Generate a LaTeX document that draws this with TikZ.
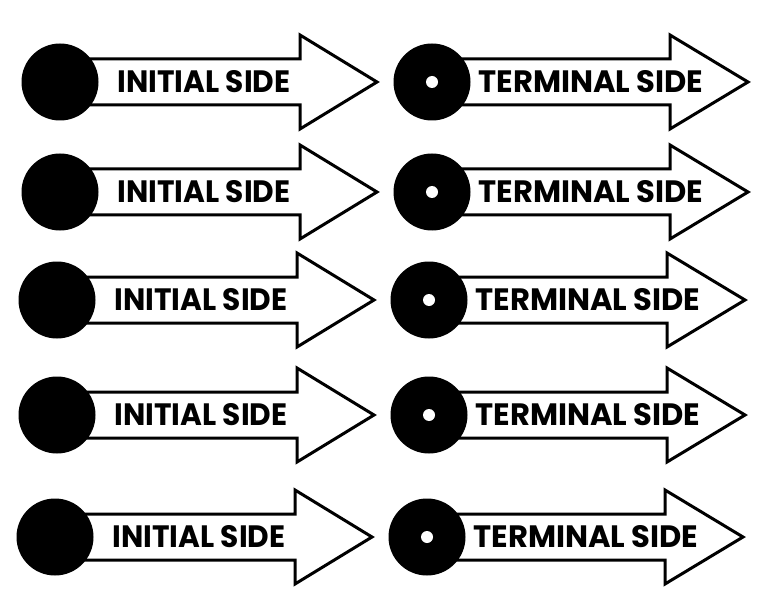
\documentclass[tikz,border=0pt]{standalone}
\usepackage{fontspec}
\setmainfont{Poppins}
\usepackage{graphicx}
\begin{document}
\begin{tikzpicture}[x=1pt,y=-1pt,
  arr/.style={draw=black,fill=white,line width=3pt,line join=miter},
  dot/.style={circle,fill=black,minimum size=77pt,inner sep=0pt},
  lbl/.style={inner sep=0pt,font=\bfseries}]
\useasboundingbox (0,0) rectangle (768,604);
\foreach \i/\y/\d in {1/82/0,2/192/0,3/300/3,4/415/3,5/537/5}{
  % left
  \draw[arr] (60-\d,\y-23) -- (300-\d,\y-23) -- (300-\d,\y-47) -- (377-\d,\y) -- (300-\d,\y+47) -- (300-\d,\y+23) -- (60-\d,\y+23) -- cycle;
  \node[dot] (l\i) at (60-\d,\y) {};
  \node[lbl] (lt\i) at (204-\d,\y) {\resizebox{173pt}{22pt}{INITIAL SIDE}};
  % right
  \draw[arr] (432-\d,\y-23) -- (670-\d,\y-23) -- (670-\d,\y-47) -- (748-\d,\y) -- (670-\d,\y+47) -- (670-\d,\y+23) -- (432-\d,\y+23) -- cycle;
  \node[dot] (r\i) at (432-\d,\y) {};
  \fill[white] (r\i.center) circle (6pt);
  \node[lbl] (rt\i) at (591-\d,\y) {\resizebox{225pt}{22pt}{TERMINAL SIDE}};
}
\end{tikzpicture}
\end{document}
